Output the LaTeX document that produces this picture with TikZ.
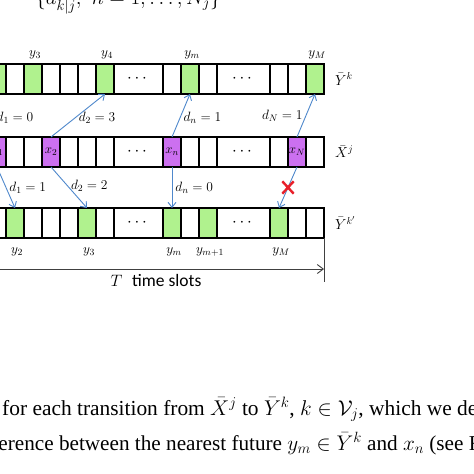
\RequirePackage{fix-cm}
\documentclass[tikz,border=0pt]{standalone}
\usepackage{amsmath}
\usepackage{fontspec}
\usepackage{tikz}
\usetikzlibrary{arrows.meta,shapes.misc}
\newfontfamily\bodyfont{Liberation Serif}
\newfontfamily\slotsfont{Carlito}
\definecolor{slotGreen}{HTML}{B0F28E}
\definecolor{slotPurple}{HTML}{CC70F0}
\definecolor{hopBlue}{HTML}{4F88CC}
\definecolor{crossRed}{HTML}{E8202A}

\begin{document}
\begin{tikzpicture}[x=1pt,y=-1pt,
  slot/.style={draw=black,line width=2.2pt,minimum width=18pt,minimum height=30pt,inner sep=0pt,outer sep=0pt,font=\fontsize{13}{15}\selectfont},
  gapslot/.style={slot,fill=white,minimum width=#1,font=\fontsize{17}{17}\selectfont},
  slotlab/.style={inner sep=0pt,xshift=2pt,font=\fontsize{13.5}{15}\selectfont},
  rowlab/.style={inner sep=0pt,anchor=west,font=\fontsize{14.5}{16}\selectfont},
  hop/.style={draw=hopBlue,line width=0.9pt,-{Straight Barb[length=5pt,width=8pt]}},
  dlab/.style={inner sep=3pt,font=\fontsize{13.5}{15}\selectfont},
  body/.style={anchor=base west,inner sep=0pt,font=\bodyfont\fontsize{#1}{24}\selectfont}]
\useasboundingbox (0,0) rectangle (474,474);
\fill[white] (0,0) rectangle (474,474);
\clip (0,0) rectangle (474,474);

\node[anchor=base,inner sep=0pt,font=\fontsize{21}{24}\selectfont] (eqtop) at (128,4) {$\{d_{k|j}^{\,n},\ n=1,\ldots,N_j\}$};

% the three slot sequences
\foreach \x/\c [count=\i] in {-3/slotGreen,15/white,33/slotGreen,51/white,69/white,87/white,105/slotGreen,172/white,190/slotGreen,208/white,279/white,297/white,315/slotGreen}
  \node[slot,fill=\c] (t\i) at (\x,79) {};
\foreach \x/\c/\t [count=\i] in {-3/slotPurple/{$x_1$},15/white/{},33/white/{},51/slotPurple/{$x_2$},69/white/{},87/white/{},105/white/{},172/slotPurple/{$x_n$},190/white/{},208/white/{},279/white/{},297/slotPurple/{$x_N$},315/white/{}}
  \node[slot,fill=\c] (m\i) at (\x,152) {\t};
\foreach \x/\c [count=\i] in {-3/white,15/slotGreen,33/white,51/white,69/white,87/slotGreen,105/white,172/slotGreen,190/white,208/slotGreen,279/slotGreen,297/white,315/white}
  \node[slot,fill=\c] (b\i) at (\x,223) {};
\foreach \r/\y in {t/79,m/152,b/223}{
  \node[gapslot=49pt] (\r gapa) at (138.5,\y) {$\cdots$};
  \node[gapslot=53pt] (\r gapb) at (243.5,\y) {$\cdots$};
}

\node[slotlab,above=5pt] (ly3) at (t3.north) {$y_3$};
\node[slotlab,above=5pt] (ly4) at (t7.north) {$y_4$};
\node[slotlab,above=5pt] (lym) at (t9.north) {$y_m$};
\node[slotlab,above=5pt] (lyM) at (t13.north) {$y_M$};
\node[slotlab,below=9pt] (ky2) at (b2.south) {$y_2$};
\node[slotlab,below=9pt] (ky3) at (b6.south) {$y_3$};
\node[slotlab,below=9pt] (kym) at (b8.south) {$y_m$};
\node[slotlab,below=9pt] (kyp) at (b10.south) {$y_{m+1}$};
\node[slotlab,below=9pt] (kyM) at (b11.south) {$y_M$};

\node[rowlab] (rowY) at ([xshift=11pt]t13.east) {$\bar{Y}^k$};
\node[rowlab] (rowX) at ([xshift=11pt]m13.east) {$\bar{X}^j$};
\node[rowlab] (rowYp) at ([xshift=11pt]b13.east) {$\bar{Y}^{k'}$};

\node[dlab] (d10) at (15,118) {$d_1=0$};
\draw[hop] (m4.north) -- node[dlab,pos=.45,right] (d23) {$d_2=3$} (t7.south);
\draw[hop] (m4.south) -- node[dlab,pos=.46,right] (d22) {$d_2=2$} (b6.north);
\draw[hop] (m1.south) -- node[dlab,pos=.5,right] (d11) {$d_1=1$} (b2.north);
\draw[hop] (m8.north) -- node[dlab,pos=.45,right] (dn1) {$d_n=1$} (t9.south);
\draw[hop] (m8.south) -- node[dlab,right] (dn0) {$d_n=0$} (b8.north);
\draw[hop] (m12.north) -- node[dlab,pos=.5,left] (dN1) {$d_N=1$} (t13.south);
\draw[hop] (m12.south) -- node[cross out,draw=crossRed,line width=2.4pt,minimum width=9pt,minimum height=10pt,inner sep=0pt] (nohop) {} (b11.north);

% time axis
\coordinate (tstart) at (-10,269);
\draw[line width=0.9pt,black!75] (b13.south east) -- ++(0,44) coordinate (tickend);
\draw[line width=0.9pt,black!75,-{Straight Barb[length=6pt,width=9pt]}] (tstart) -- (tstart -| b13.south east);
\node[anchor=base,inner sep=0pt,font=\fontsize{16.5}{18}\selectfont] (tlab) at (156,286) {$T$\ \ {\slotsfont\fontsize{17.5}{18}\selectfont time slots}};

\node[body=21.4] (txta) at (2,415) {for each transition from $\bar{X}^j$ to $\bar{Y}^k$, $k\in\mathcal{V}_j$, which we denote};
\node[body=21.2] (txtb) at (-32,450) {difference between the nearest future $y_m\in\bar{Y}^k$ and $x_n$ (see Fig.};
\end{tikzpicture}
\end{document}
